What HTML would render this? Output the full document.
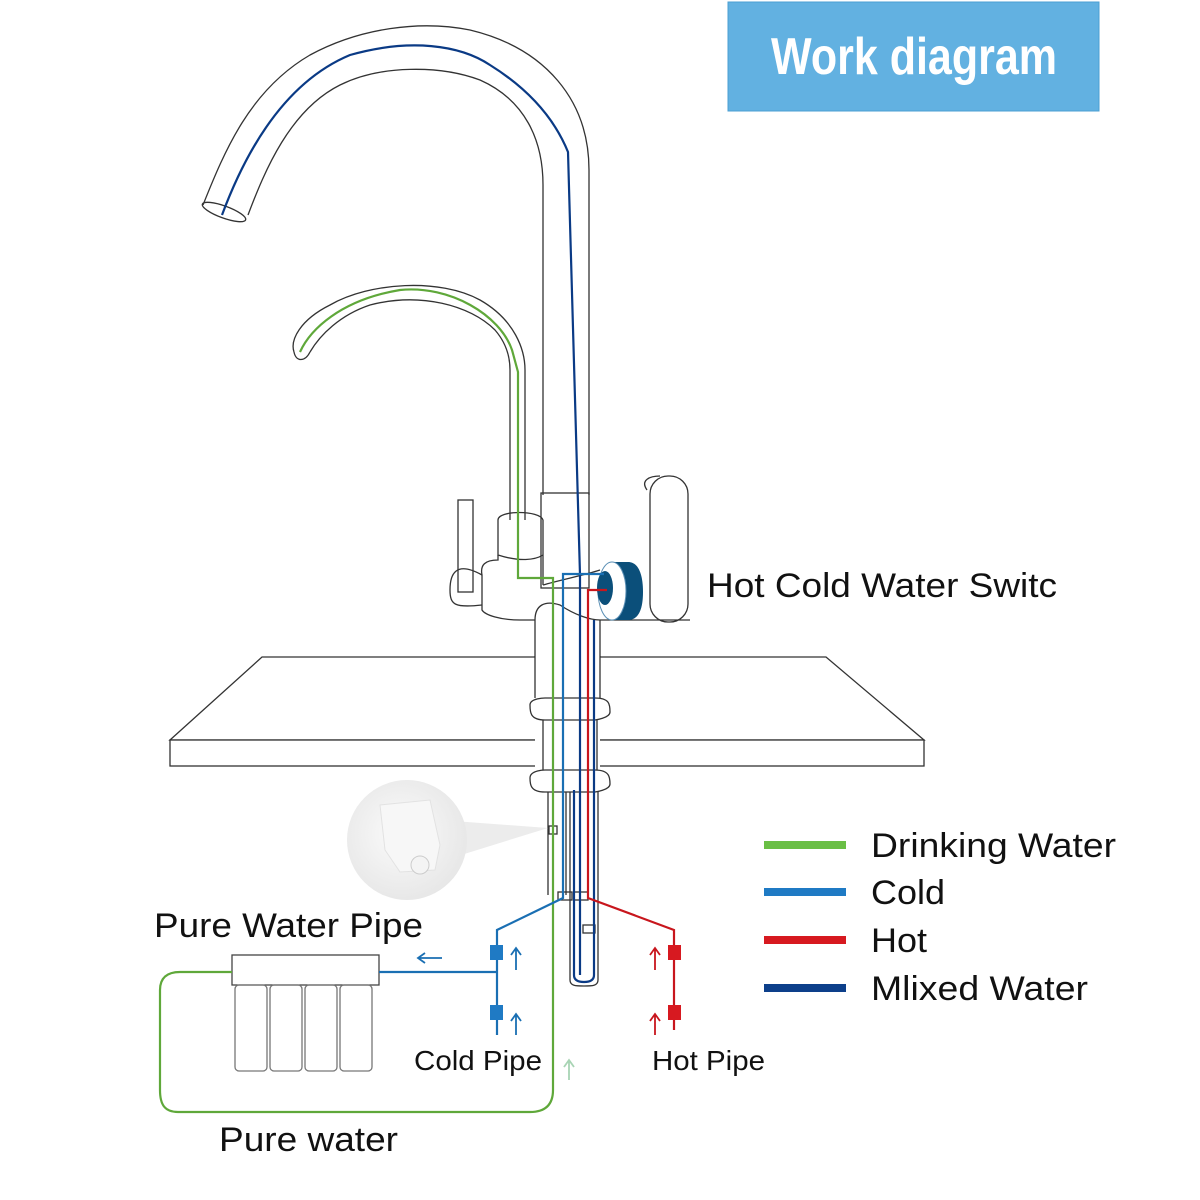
<!DOCTYPE html>
<html><head><meta charset="utf-8"><style>
body{margin:0;background:#fff}
svg{display:block}
text{font-family:"Liberation Sans",sans-serif}
</style></head><body>
<svg width="1200" height="1200" viewBox="0 0 1200 1200" xmlns="http://www.w3.org/2000/svg">
<defs>
<radialGradient id="bub" cx="0.45" cy="0.45" r="0.6"><stop offset="0" stop-color="#fbfbfb"/><stop offset="1" stop-color="#e6e6e6"/></radialGradient>
</defs>
<rect width="1200" height="1200" fill="#fff"/>
<!-- header -->
<rect x="728" y="2" width="371" height="109" fill="#62b1e1" stroke="#4b9fd3"/>
<text x="771" y="74" font-size="52" font-weight="bold" fill="#fff" textLength="286" lengthAdjust="spacingAndGlyphs">Work diagram</text>

<g fill="none" stroke="#333" stroke-width="1.3">
<!-- big spout -->
<path d="M203,205 C225,150 250,90 310,55 C360,28 420,20 470,30 C545,48 589,100 589,170 L589,495"/>
<path d="M248,215 C265,170 290,110 340,85 C380,65 440,65 480,80 C525,100 543,140 543,185 L543,495"/>
<ellipse cx="224" cy="212" rx="23" ry="6" transform="rotate(20 224 212)"/>
<!-- small spout -->
<path d="M294,352 C290,340 300,320 330,305 C370,282 440,278 480,300 C515,320 525,350 525,370 L525,520"/>
<path d="M310,352 C320,335 340,315 370,305 C420,292 470,305 495,330 C508,345 510,360 510,370 L510,520"/>
<path d="M294,352 C296,362 305,362 310,352"/>
<!-- body -->
<rect x="458" y="500" width="15" height="92"/>
<path d="M498,520 C498,510 540,510 543,520 L543,585"/>
<path d="M498,520 L498,555 C520,562 535,560 543,555"/>
<rect x="541" y="493" width="48" height="95"/>
<path d="M498,555 L498,560 C485,560 480,565 482,575 L482,610 C485,615 500,620 520,620 L535,620"/>
<path d="M482,575 C455,560 450,575 450,590 C450,605 455,608 482,605"/>
<path d="M543,585 C560,580 585,575 600,570"/>
<path d="M535,620 C535,605 545,600 560,605 C575,615 590,620 600,620 L690,620"/>
<rect x="650" y="476" width="38" height="146" rx="18"/>
<path d="M647,490 C640,480 650,476 660,476"/>
<path d="M535,620 L535,688 L600,688 L600,620"/>
<!-- countertop -->
<path d="M262,657 L826,657 L924,740 L170,740 Z" fill="#fff"/>
<rect x="170" y="740" width="754" height="26" fill="#fff"/>
<rect x="535" y="656" width="65" height="122" fill="#fff" stroke="none"/>
<path d="M535,656 L535,698 M600,656 L600,698"/>
<path d="M530,705 C530,698 545,698 545,698 L595,698 C610,698 610,705 610,712 C610,718 595,720 595,720 L545,720 C530,720 530,712 530,705Z" fill="#fff"/>
<path d="M543,720 L543,770 M597,720 L597,770"/>
<path d="M530,778 C530,770 545,770 545,770 L595,770 C610,770 610,778 610,784 C610,790 595,792 595,792 L545,792 C530,792 530,784 530,778Z" fill="#fff"/>
<!-- lower tubes -->
<path d="M548,792 L548,895 M566,792 L566,895"/>
<path d="M570,792 L570,980 C570,986 576,986 584,986 C592,986 598,986 598,980 L598,792"/>
<rect x="549" y="826" width="8" height="8"/>
<rect x="558" y="892" width="14" height="8"/>
<rect x="574" y="892" width="14" height="8"/>
<rect x="583" y="925" width="12" height="8"/>
<!-- filter -->
<rect x="232" y="955" width="147" height="30" stroke="#444"/>
<rect x="235" y="985" width="32" height="86" rx="4" stroke="#777"/>
<rect x="270" y="985" width="32" height="86" rx="4" stroke="#777"/>
<rect x="305" y="985" width="32" height="86" rx="4" stroke="#777"/>
<rect x="340" y="985" width="32" height="86" rx="4" stroke="#777"/>
</g>

<!-- switch cylinder -->
<path d="M612,562 L628,562 C640,562 643,578 643,592 C643,606 640,620 628,620 L612,620 Z" fill="#0b4f7a"/>
<ellipse cx="612" cy="591" rx="14" ry="29" fill="#fff" stroke="#5a8fb5"/>
<ellipse cx="605" cy="588" rx="8" ry="17" fill="#0b4f7a"/>

<!-- bubble -->
<path d="M440,820 L548,828 L445,860 Z" fill="#ececec"/>
<circle cx="407" cy="840" r="60" fill="url(#bub)"/>
<path d="M380,805 L430,800 L440,845 L435,870 L400,872 L385,850 Z" fill="#f7f7f7" stroke="#e2e2e2"/>
<circle cx="420" cy="865" r="9" fill="#f4f4f4" stroke="#ccc"/>

<g fill="none" stroke-width="2.2">
<!-- mixed blue -->
<path d="M222,215 C250,140 290,80 350,55 C410,38 460,45 490,65 C530,90 555,120 568,152 L580,575 L580,580 L580,975" stroke="#0a3a85"/>
<path d="M574,790 L574,975 C574,980 578,982 584,982 C590,982 594,980 594,975 L594,620" stroke="#0a3a85"/>
<!-- green -->
<path d="M300,352 C310,330 340,300 400,290 C450,285 500,315 512,350 L518,372 L518,578 L553,578 L553,1090 C553,1105 545,1112 530,1112 L178,1112 C165,1112 160,1105 160,1090 L160,990 C160,978 167,972 180,972 L232,972" stroke="#5fa83a"/>
<!-- cold -->
<path d="M604,574 L563,574 L563,898 L497,930 L497,1035 M379,972 L497,972" stroke="#1a6fb3"/>
<!-- hot -->
<path d="M607,590 L588,590 L588,898 L674,930 L674,1030" stroke="#c8161d"/>
</g>
<!-- connectors -->
<rect x="490" y="945" width="13" height="15" fill="#1f7ac4"/>
<rect x="490" y="1005" width="13" height="15" fill="#1f7ac4"/>
<rect x="668" y="945" width="13" height="15" fill="#d71920"/>
<rect x="668" y="1005" width="13" height="15" fill="#d71920"/>
<!-- arrows -->
<g stroke-width="1.8" fill="none">
<path d="M516,970 L516,948 M511,955 L516,948 L521,955" stroke="#1a6fb3"/>
<path d="M516,1035 L516,1014 M511,1021 L516,1014 L521,1021" stroke="#1a6fb3"/>
<path d="M442,958 L418,958 M425,953 L418,958 L425,963" stroke="#1a6fb3"/>
<path d="M655,970 L655,948 M650,955 L655,948 L660,955" stroke="#c8161d"/>
<path d="M655,1035 L655,1014 M650,1021 L655,1014 L660,1021" stroke="#c8161d"/>
<path d="M569,1080 L569,1060 M564,1067 L569,1060 L574,1067" stroke="#a8d4b4"/>
</g>

<!-- legend -->
<rect x="764" y="841" width="82" height="8" fill="#6abf45"/>
<rect x="764" y="888" width="82" height="8" fill="#1f7ac4"/>
<rect x="764" y="936" width="82" height="8" fill="#d71920"/>
<rect x="764" y="984" width="82" height="8" fill="#0d3f8a"/>
<g font-size="34" fill="#111" lengthAdjust="spacingAndGlyphs">
<text x="871" y="857" textLength="245" lengthAdjust="spacingAndGlyphs">Drinking Water</text>
<text x="871" y="904" textLength="74" lengthAdjust="spacingAndGlyphs">Cold</text>
<text x="871" y="952" textLength="56" lengthAdjust="spacingAndGlyphs">Hot</text>
<text x="871" y="1000" textLength="217" lengthAdjust="spacingAndGlyphs">Mlixed Water</text>
<text x="707" y="597" textLength="350" lengthAdjust="spacingAndGlyphs">Hot Cold Water Switc</text>
<text x="154" y="937" textLength="269" lengthAdjust="spacingAndGlyphs">Pure Water Pipe</text>
<text x="219" y="1151" textLength="179" lengthAdjust="spacingAndGlyphs">Pure water</text>
</g>
<g font-size="28" fill="#111">
<text x="414" y="1070" textLength="128" lengthAdjust="spacingAndGlyphs">Cold Pipe</text>
<text x="652" y="1070" textLength="113" lengthAdjust="spacingAndGlyphs">Hot Pipe</text>
</g>
</svg>
</body></html>
